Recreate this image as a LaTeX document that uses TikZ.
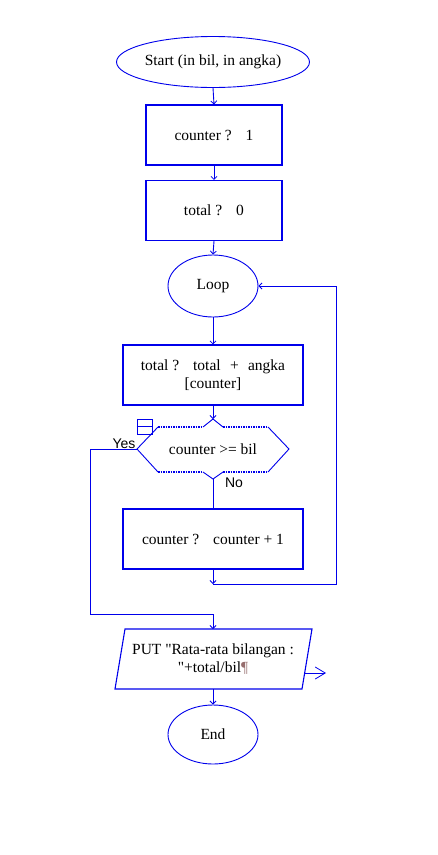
\documentclass[tikz,border=0pt]{standalone}
\usepackage{fontspec}
\setmainfont{Liberation Serif}
\newfontfamily\arialfont{Liberation Sans}
\usetikzlibrary{shapes.geometric,arrows.meta,calc}
\definecolor{fcblue}{RGB}{0,0,235}
\definecolor{pilcrow}{RGB}{150,110,110}
\begin{document}
\begin{tikzpicture}[x=1pt,y=-1pt,
  font=\fontsize{15.5}{18.5}\selectfont,
  box/.style={draw=fcblue, line width=1.1pt, minimum height=60pt, inner sep=0pt, align=center},
  oval/.style={draw=fcblue, line width=0.9pt, ellipse, inner sep=0pt, align=center},
  conn/.style={draw=fcblue, line width=0.9pt},
  arr/.style={conn, -{Straight Barb[length=3pt,width=6pt,line width=0.8pt]}},
  lbl/.style={font=\arialfont\fontsize{14}{16}\selectfont, inner sep=0pt},
  hexside/.style={draw=fcblue, line width=0.9pt},
  hexdot/.style={draw=fcblue, line width=1.5pt, densely dotted}
]
\useasboundingbox (0,0) rectangle (438,855);

% nodes
\node[oval, minimum width=180pt, minimum height=51pt] (start) at (213,62) {Start (in bil, in angka)};
\node[box, minimum width=136pt] (b1) at (214,135) {counter ?\hspace{0.9em}1};
\node[box, minimum width=136pt] (b2) at (214,210.5) {total ?\hspace{0.9em}0};
\node[oval, minimum width=90pt, minimum height=62pt] (loop) at (213,286) {Loop};
\node[box, minimum width=180pt] (b3) at (213,375) {total ?\hspace{0.9em}total\hspace{0.6em}+\hspace{0.6em}angka\\[-1pt][counter]};
\node[inner sep=0pt] (dec) at (213,449) {counter >= bil};
\coordinate (dectop) at (213,419);
\coordinate (decbot) at (213,479);
\coordinate (decleft) at (137,449);
\node[box, minimum width=180pt] (b4) at (213,539) {counter ?\hspace{0.9em}counter + 1};
\node[inner sep=0pt, align=center] (put) at (213,659) {PUT \textquotedbl Rata-rata bilangan :\\[-1pt]\textquotedbl +total/bil{\color{pilcrow}¶}};
\node[oval, minimum width=90pt, minimum height=59pt] (end) at (213,734.5) {End};

% decision hexagon
\draw[hexside] (158,427) -- (decleft) -- (158,472);
\draw[hexside] (268,427) -- (289,449) -- (268,472);
\draw[hexdot] (158,427) -- (203,427) (223,427) -- (268,427)
              (158,472) -- (203,472) (223,472) -- (268,472);
\draw[hexside] (203,427) -- (dectop) -- (223,427) (203,472) -- (decbot) -- (223,472);

% collapse icon
\node[draw=fcblue, line width=0.8pt, minimum width=15pt, minimum height=15pt, inner sep=0pt] (icon) at (144.5,426.5) {};
\draw[conn, line width=0.8pt] (icon.west) -- (icon.east);

% output parallelogram
\draw[draw=fcblue, line width=1.1pt] (125,629) -- (312,629) -- (302,689) -- (115,689) -- cycle;
\coordinate (puttop) at (213,629);
\coordinate (putbot) at (213,689);
\coordinate (putright) at (305,673);
\coordinate (putout) at (326,673);
\draw[conn, -{Straight Barb[length=10pt,width=12pt,line width=0.8pt]}] (putright) -- (putout);

% connectors
\draw[arr] (start.south) -- (b1.north);
\draw[arr] (b1.south) -- (b2.north);
\draw[arr] (b2.south) -- (loop.north);
\draw[arr] (loop.south) -- (b3.north);
\draw[arr] (b3.south) -- (dectop);
\draw[conn] (decbot) -- (b4.north);
\coordinate (b4end) at (213,584);
\draw[arr] (b4.south) -- (b4end);
\draw[arr] (b4end) -- (336,584) -- (336,286) -- (loop.east);
\coordinate (yesturn) at (90,614);
\draw[arr] (decleft) -- (90,449) -- (yesturn) -- (213,614) -- (puttop);
\draw[arr] (putbot) -- (end.north);

% labels
\node[lbl] (yes) at (124,444) {Yes};
\node[lbl] (no) at (234,483) {No};
\end{tikzpicture}
\end{document}
